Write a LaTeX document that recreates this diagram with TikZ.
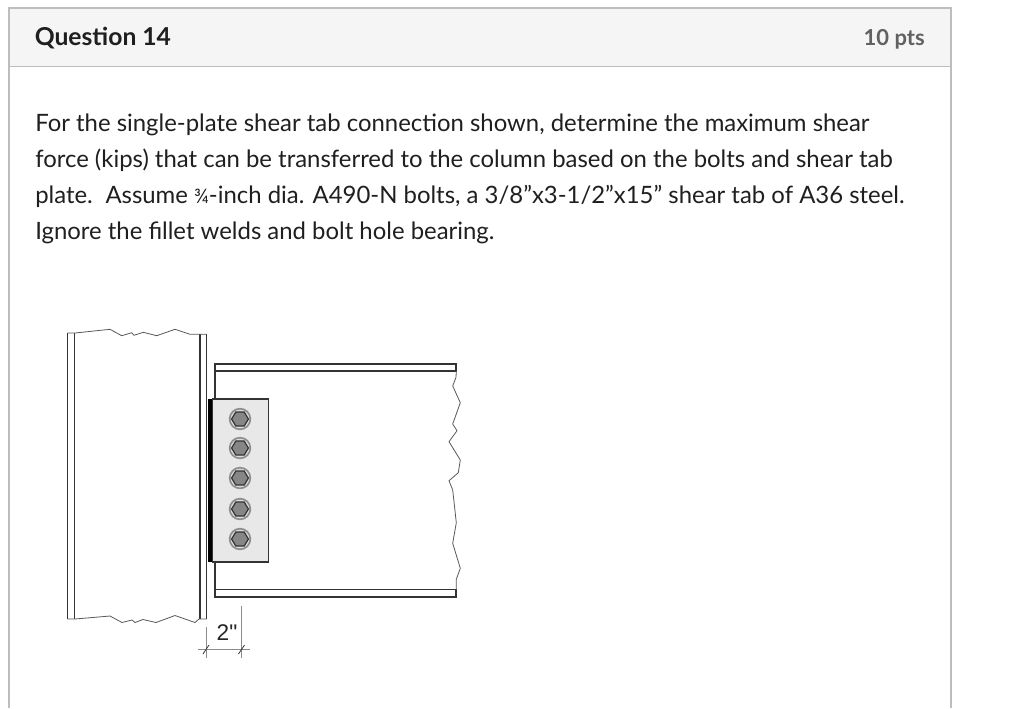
\documentclass[tikz,border=0pt]{standalone}
\usepackage{fontspec}
\setmainfont{Lato}
\newfontfamily\dimfont{Liberation Sans}
\definecolor{hdr}{HTML}{F5F5F5}
\definecolor{edge}{HTML}{BDBDBD}
\definecolor{ink}{HTML}{2D3B45}
\definecolor{steel}{HTML}{333333}
\tikzset{
  body/.style={anchor=base west,inner sep=0pt,font=\fontsize{17.93}{18}\selectfont,text=black!88},
  steelline/.style={draw=steel,line width=1.3pt},
  breakline/.style={draw=black!65,line width=0.6pt,line join=round},
  dimline/.style={draw=black!45,line width=0.5pt},
  tick/.style={draw=black!80,line width=0.6pt},
  pics/bolt/.style={code={
    \fill[gray!90] (0,0) circle (11.2);
    \fill[gray!30] (0,0) circle (9.4);
    \draw[fill=gray!95,draw=black!80,line width=0.9pt]
      (-8.4,0)--(-4.2,-7)--(4.2,-7)--(8.4,0)--(4.2,7)--(-4.2,7)--cycle;
  }}
}
\begin{document}
\begin{tikzpicture}[x=0.75pt,y=-0.75pt]
\useasboundingbox (0,0) rectangle (1024,708);
\fill[white] (0,0) rectangle (1024,708);
% card
\fill[hdr] (9,8) rectangle (951,66);
\draw[edge,line width=0.9pt] (9,708)--(9,8)--(951,8)--(951,708);
\draw[edge,line width=0.9pt] (9,66.5)--(951,66.5);
\node[body,font=\fontsize{18.5}{18}\selectfont\bfseries] (qtitle) at (34.5,45) {Question 14};
\node[anchor=base east,inner sep=0pt,font=\fontsize{16.5}{16.5}\selectfont\bfseries,text=black!62] (pts) at (925,45) {10 pts};
\node[body] (l1) at (35,131) {For the single-plate shear tab connection shown, determine the maximum shear};
\node[body] (l2) at (35,167) {force (kips) that can be transferred to the column based on the bolts and shear tab};
\node[body] (l3) at (35,203) {plate.\hspace{0.53em}Assume {\fontsize{15}{15}\selectfont ¾}-inch dia. A490-N bolts, a 3/8”x3-1/2”x15” shear tab of A36 steel.};
\node[body] (l4) at (35,239) {Ignore the fillet welds and bolt hole bearing.};
% column
\draw[steelline] (67.5,333)--(67.5,619);
\draw[steelline] (74.5,333)--(74.5,619);
\draw[steelline] (200,334)--(200,619);
\draw[steelline] (206.5,334)--(206.5,619);
\draw[breakline] (67.5,333)--(75,333)--(110,329.3)--(121.7,335.7)--(131.7,332.7)--(134,335.3)--(143.3,332.3)--(156.7,335.7)--(175,329.3)--(190,334.3)--(206.5,334.3);
\draw[breakline] (67.5,619)--(75,619)--(110,616)--(122,622.5)--(132,620)--(135,622.5)--(143,619.5)--(156,622.5)--(175,615.5)--(195,622.5)--(199,619)--(206.5,619);
% beam
\draw[steelline] (215,399)--(215,364)--(456,364)--(456,371)--(215,371);
\draw[steelline] (215,562)--(215,597)--(456,597)--(456,589.5)--(215,589.5);
\draw[breakline] (456.3,371)--(456,377.3)--(452.7,386)--(460.3,402.7)--(452.7,424)--(457,430.7)--(449,441.7)--(460.3,460)--(458.3,472.7)--(449,480.7)--(452.7,490)--(456.3,522.7)--(452.7,543.3)--(460.3,568.3)--(456.3,579.3)--(456.3,589.5);
% weld and plate
\fill[black] (207.5,399) rectangle (212.5,562);
\draw[draw=steel,line width=1pt,fill=gray!18] (212.5,399) rectangle (268.5,562);
\foreach \n/\y in {a/419,b/448,c/478,d/509,e/539}
  \pic (bolt\n) at (240,\y) {bolt};
% dimension
\coordinate (extA) at (206,627);
\coordinate (extAb) at (206,658);
\coordinate (extB) at (241.5,606);
\coordinate (extBb) at (241.5,658);
\coordinate (dimL) at (198,649);
\coordinate (dimR) at (250,649);
\draw[dimline] (extA)--(extAb);
\draw[dimline] (extB)--(extBb);
\draw[dimline] (dimL)--(dimR);
\draw[tick] (203,654)--(209,645);
\draw[tick] (238.5,654)--(244.5,645);
\node[anchor=base,inner sep=0pt,font=\dimfont\fontsize{17}{17}\selectfont,text=black!85] (dim) at (227,640.5) {2"};
\end{tikzpicture}
\end{document}
